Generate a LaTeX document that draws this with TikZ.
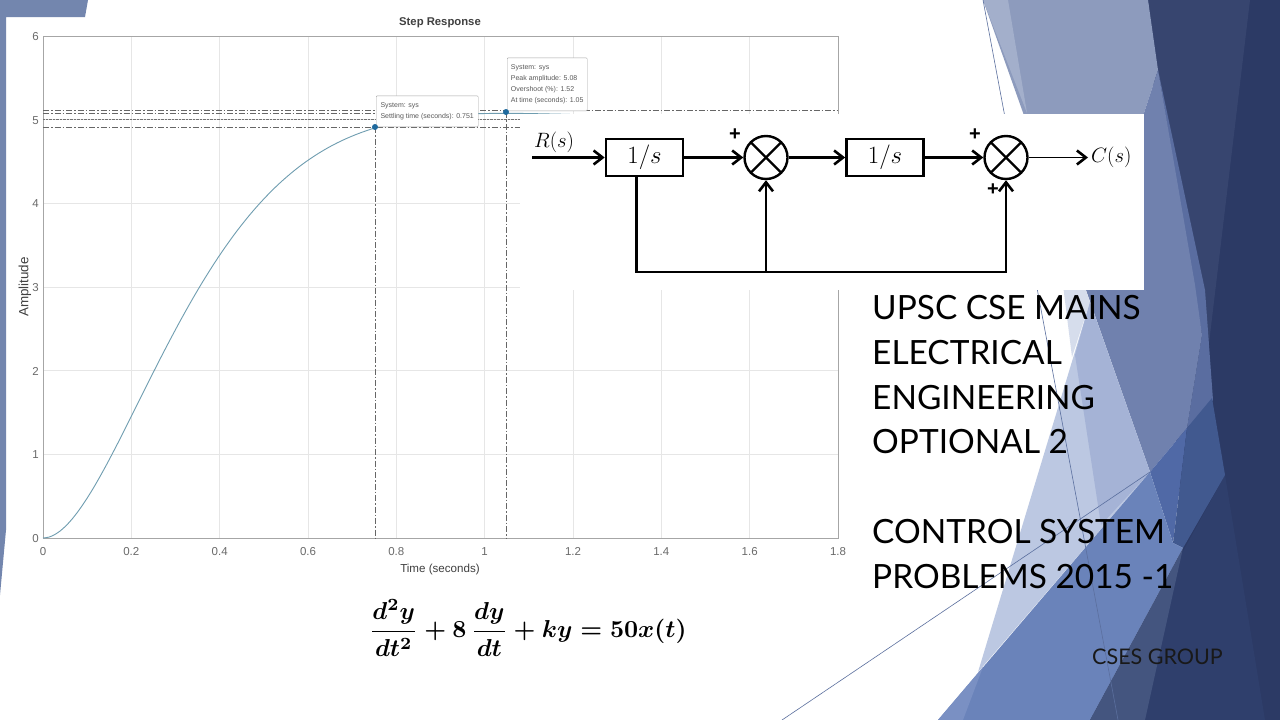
\documentclass[tikz,border=0pt]{standalone}
\usepackage{fontspec}
\usepackage{amsmath}
\setmainfont{Liberation Sans}
\newfontfamily\slidefont{Lato}
\definecolor{slateblue}{HTML}{7386AE}
\definecolor{periblue}{HTML}{8D9BBD}
\definecolor{paleperi}{HTML}{A3AFCB}
\definecolor{midblue}{HTML}{7081AE}
\definecolor{sliverblue}{HTML}{5A6DA0}
\definecolor{verypale}{HTML}{D6DDEC}
\definecolor{paleblue}{HTML}{BCC8E2}
\definecolor{softblue}{HTML}{A5B3D6}
\definecolor{bigblue}{HTML}{6A83BA}
\definecolor{bandblue}{HTML}{7A90C3}
\definecolor{midbig}{HTML}{5069A6}
\definecolor{deepblue}{HTML}{41598F}
\definecolor{greynavy}{HTML}{44557F}
\definecolor{topnavy}{HTML}{37456F}
\definecolor{navy}{HTML}{2C3A65}
\definecolor{centernavy}{HTML}{2F3F6C}
\definecolor{hairblue}{HTML}{5B6F9E}
\definecolor{axisgrey}{HTML}{A6A6A6}
\definecolor{gridgrey}{HTML}{E6E6E6}
\definecolor{ticktext}{HTML}{6A6A6A}
\definecolor{curveteal}{HTML}{6F9DB0}
\definecolor{markblue}{HTML}{1F6A9E}
\usetikzlibrary{arrows.meta, positioning, calc}

\begin{document}
\begin{tikzpicture}[
    x=1pt, y=-1pt,
    ticklabel/.style={font=\fontsize{11.5}{12}\selectfont, text=ticktext, inner sep=0pt},
    axislabel/.style={font=\fontsize{11.6}{13}\selectfont, text=black!75, inner sep=0pt},
    limitline/.style={black!60, line width=0.7pt, dash pattern=on 6pt off 2pt on 1.5pt off 2pt},
    datatip/.style={draw=axisgrey, fill=white, rounded corners=1pt, inner sep=3.5pt, align=left, text=black!65, font=\fontsize{7}{11}\selectfont},
    blockbox/.style={draw, line width=2.6pt, minimum width=77pt, minimum height=37pt, inner sep=0pt, font=\fontsize{24}{26}\selectfont},
    sumnode/.style={circle, draw, line width=2.4pt, minimum size=43pt, inner sep=0pt, path picture={
        \draw[line width=2.4pt] (path picture bounding box.north west) -- (path picture bounding box.south east);
        \draw[line width=2.4pt] (path picture bounding box.south west) -- (path picture bounding box.north east);}},
    sigline/.style={line width=2.6pt, -{Straight Barb[length=9pt, width=14pt, line width=2.6pt]}},
    signs/.style={font=\bfseries\fontsize{20}{20}\selectfont, inner sep=0pt},
    sigtext/.style={font=\fontsize{20}{22}\selectfont, inner sep=0pt}
]
    \useasboundingbox (0,0) rectangle (1280,720);
    \fill[white] (0,0) rectangle (1280,720);

    % Slide background
    \fill[slateblue] (0,0) -- (88,0) -- (85,17) -- (6,17) -- (6,530) -- (0,595) -- cycle;
    \fill[navy] (1148,0) -- (1280,0) -- (1280,720) -- (1090,720) -- (1183,548) -- cycle;
    \fill[centernavy] (1225,475) -- (1265,720) -- (1090,720) -- cycle;
    \fill[topnavy] (1148,0) -- (1250,0) -- (1207,360) -- (1158,70) -- cycle;
    \fill[periblue] (983,0) -- (1148,0) -- (1158,70) -- (1144,113) -- (1086,290) -- cycle;
    \fill[paleperi] (983,0) -- (1008,0) -- (1027,113) -- cycle;
    \fill[sliverblue] (1158,70) -- (1205,290) -- (1213,400) -- (1187,428) -- (1202,335) -- cycle;
    \fill[midblue] (1158,70) -- (1195,285) -- (1202,335) -- (1187,428) -- (1150,472) -- (1086,290) -- (1144,113) -- cycle;
    \fill[verypale] (1063,285) -- (1084,285) -- (1090,302) -- (1072,357) -- cycle;
    \fill[paleblue] (1090,302) -- (978,672) -- (1150,472) -- cycle;
    \fill[softblue] (1090,302) -- (1075,355) -- (1101,525) -- (1150,472) -- cycle;
    \fill[midbig] (1150,472) -- (1187,428) -- (1173,543) -- cycle;
    \fill[deepblue] (1187,428) -- (1212,398) -- (1225,475) -- (1183,548) -- (1173,543) -- cycle;
    \fill[bigblue] (938,720) -- (1150,472) -- (1173,543) -- (1183,548) -- (1090,720) -- cycle;
    \fill[bandblue] (938,720) -- (963,720) -- (983,667) -- cycle;
    \fill[greynavy] (1090,720) -- (1183,548) -- (1145,720) -- cycle;
    \draw[hairblue, line width=0.6pt] (983,0) -- (1118,720);
    \draw[hairblue, line width=0.6pt] (782,720) -- (1150,472);

    % Step response plot
    \foreach \xt in {0.2,0.4,...,1.61} {
        \draw[gridgrey] ({43+441.67*\xt},36) -- ({43+441.67*\xt},538);
    }
    \foreach \yt in {1,...,5} {
        \draw[gridgrey] (43,{538-83.67*\yt}) -- (838,{538-83.67*\yt});
    }
    \draw[axisgrey, line width=0.9pt] (43,36) rectangle (838,538);
    \foreach \xt/\xl in {0/0,0.2/0.2,0.4/0.4,0.6/0.6,0.8/0.8,1/1,1.2/1.2,1.4/1.4,1.6/1.6,1.8/1.8} {
        \node[ticklabel, anchor=base] (xtick\xl) at ({43+441.67*\xt},555.5) {\xl};
    }
    \foreach \yt in {0,...,6} {
        \node[ticklabel, anchor=base east] (ytick\yt) at (39,{542.5-83.67*\yt}) {\yt};
    }
    \node[axislabel, font=\bfseries\fontsize{11.3}{13}\selectfont] (plottitle) at (440,23) {Step Response};
    \node[axislabel] (xlabel) at (440,569) {Time (seconds)};
    \node[axislabel, font=\fontsize{13.4}{14}\selectfont, rotate=90] (ylabel) at (25,287) {Amplitude};

    % Limits and markers
    \draw[limitline] (43,110) -- (838,110);
    \draw[limitline] (43,113) -- (506,113);
    \draw[black!55, densely dotted] (43,119.5) -- (838,119.5);
    \draw[limitline] (43,127) -- (838,127);
    \draw[limitline] (375,127) -- (375,538);
    \draw[limitline] (506,112) -- (506,538);
    \draw[curveteal, line width=0.9pt] plot[domain=0:1.8, samples=140, smooth]
        ({43+441.67*\x},{538-83.67*5*(1-exp(-4*\x)*(cos(3*\x r)+4/3*sin(3*\x r)))});
    \node[datatip, anchor=south west, minimum width=102pt, minimum height=31pt] (settletip) at (376,127) {System: sys\\Settling time (seconds): 0.751};
    \node[datatip, anchor=south west, minimum width=80pt, minimum height=53pt] (peaktip) at (507,111) {System: sys\\Peak amplitude: 5.08\\Overshoot (\%): 1.52\\At time (seconds): 1.05};
    \fill[markblue] (375,127) circle (3pt);
    \fill[markblue] (506,112) circle (3pt);

    % Block diagram panel
    \fill[white] (520,114) rectangle (1144,290);
    \node[blockbox] (blk1) at (644.5,157.5) {$1/s$};
    \node[sumnode] (sum1) at (766,157.5) {};
    \node[blockbox] (blk2) at (885,157.5) {$1/s$};
    \node[sumnode] (sum2) at (1006,157.5) {};
    \coordinate (rin) at (532,157.5);
    \coordinate (cout) at (1088,157.5);
    \coordinate (tap) at (636.5,272);
    \node[sigtext, above right=5pt and 2pt of rin] (rlabel) {$R(s)$};
    \node[sigtext, right=3pt of cout] (clabel) {$C(s)$};
    \node[signs] (plus1) at (735,135) {+};
    \node[signs] (plus2) at (975,135) {+};
    \node[signs] (plus3) at (993,190) {+};

    \draw[sigline] (rin) -- (blk1);
    \draw[sigline] (blk1) -- (sum1);
    \draw[sigline] (sum1) -- (blk2);
    \draw[sigline] (blk2) -- (sum2);
    \draw[sigline, line width=1.8pt] (sum2) -- (cout);
    \draw[sigline] (blk1.south -| tap) -- (tap) -- (tap -| sum2.south) -- (sum2.south);
    \draw[sigline] (tap -| sum1.south) -- (sum1.south);

    % Equation
    \node[scale=2.45, font=\boldmath] (eqn) at (528,628) {$\displaystyle \frac{d^2y}{dt^2}+8\,\frac{dy}{dt}+ky=50x(t)$};

    % Slide text
    \node[anchor=north west, inner sep=0pt, align=left, font=\slidefont\fontsize{33.4}{44.8}\selectfont] (slidetitle) at (872,295) {UPSC CSE MAINS\\ELECTRICAL\\ENGINEERING\\OPTIONAL 2\\[44.8pt]CONTROL SYSTEM\\PROBLEMS 2015 -1};
    \node[inner sep=0pt, font=\slidefont\fontsize{21.5}{25}\selectfont, text=black!90] (group) at (1157.5,657) {CSES GROUP};
\end{tikzpicture}
\end{document}
